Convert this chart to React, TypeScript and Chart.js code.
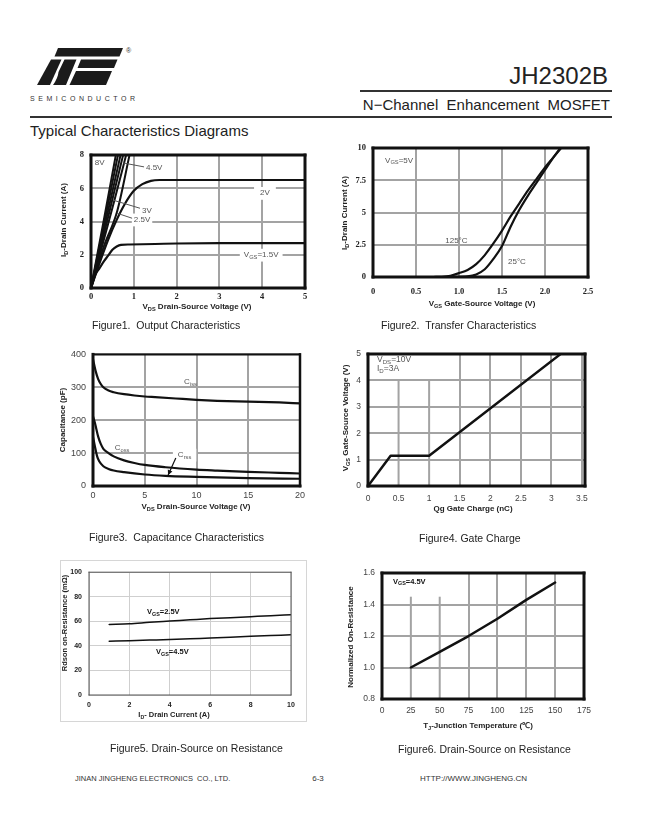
import React, { useEffect, useRef } from "react";
import { Chart, registerables } from "chart.js";

Chart.register(...registerables);

const SANS = '"Liberation Sans", Arial, Helvetica, sans-serif';
const SERIF = '"Liberation Serif", "Times New Roman", serif';

// ================= Figure 1: Output Characteristics =================
const fig1XTickValues = [0, 1, 2, 3, 4, 5];
const fig1XTickLabels = ["0", "1", "2", "3", "4", "5"];
const fig1YTickValues = [0, 2, 4, 6, 8];
const fig1YTickLabels = ["0", "2", "4", "6", "8"];
const fig1Vds8V = [0, 0.3, 0.58];
const fig1Id8V = [0, 4.1, 8];
const fig1Vds6V = [0, 0.3, 0.63];
const fig1Id6V = [0, 3.8, 8];
const fig1Vds5V = [0, 0.3, 0.69];
const fig1Id5V = [0, 3.5, 8];
const fig1Vds45V = [0, 0.3, 0.75];
const fig1Id45V = [0, 3.2, 8];
const fig1Vds3V = [0, 0.3, 0.54, 0.82];
const fig1Id3V = [0, 2.9, 5.2, 8];
const fig1Vds25V = [0, 0.3, 0.61, 0.9];
const fig1Id25V = [0, 2.5, 4.6, 8];
const fig1Vds2V = [0, 0.2, 0.4, 0.6, 0.8, 1.0, 1.2, 1.4, 1.6, 2, 3, 4, 5];
const fig1Id2V = [0, 1.5, 2.9, 4.1, 5.1, 5.85, 6.25, 6.45, 6.5, 6.5, 6.5, 6.5, 6.5];
const fig1Vds15V = [0, 0.1, 0.2, 0.3, 0.4, 0.5, 0.6, 0.7, 0.9, 1.5, 2, 3, 4, 5];
const fig1Id15V = [0, 0.8, 1.2, 1.6, 1.95, 2.3, 2.5, 2.6, 2.62, 2.65, 2.68, 2.7, 2.7, 2.7];

// ================= Figure 2: Transfer Characteristics =================
const fig2XTickValues = [0, 0.5, 1, 1.5, 2, 2.5];
const fig2XTickLabels = ["0", "0.5", "1.0", "1.5", "2.0", "2.5"];
const fig2YTickValues = [0, 2.5, 5, 7.5, 10];
const fig2YTickLabels = ["0", "2.5", "5", "7.5", "10"];
const fig2Vgs25C = [0.9, 1.1, 1.2, 1.3, 1.4, 1.5, 1.6, 1.7, 1.8, 1.9, 2.0, 2.1, 2.2];
const fig2Id25C = [0, 0.05, 0.2, 0.6, 1.4, 2.4, 3.9, 5.2, 6.3, 7.3, 8.3, 9.3, 10.2];
const fig2Vgs125C = [0.7, 0.8, 0.9, 1.0, 1.1, 1.2, 1.3, 1.4, 1.5, 1.6, 1.7, 1.8, 1.9, 2.0, 2.1, 2.2];
const fig2Id125C = [0, 0.02, 0.1, 0.3, 0.55, 1.0, 1.7, 2.6, 3.6, 4.7, 5.7, 6.7, 7.6, 8.5, 9.3, 10.1];

// ================= Figure 3: Capacitance Characteristics =================
const fig3XTickValues = [0, 5, 10, 15, 20];
const fig3XTickLabels = ["0", "5", "10", "15", "20"];
const fig3YTickValues = [0, 100, 200, 300, 400];
const fig3YTickLabels = ["0", "100", "200", "300", "400"];
const fig3VdsCiss = [0, 0.25, 0.5, 0.75, 1, 1.5, 2, 3, 4, 5, 6, 8, 10, 12, 14, 16, 18, 20];
const fig3Ciss = [385, 350, 325, 310, 300, 290, 285, 279, 275, 272, 270, 266, 262, 259, 257, 256, 254, 251];
const fig3VdsCoss = [0, 0.2, 0.5, 0.75, 1, 1.5, 2, 3, 4, 5, 7, 10, 12, 15, 18, 20];
const fig3Coss = [212, 190, 150, 128, 113, 100, 90, 78, 70, 64, 57, 50, 47, 43, 40, 38];
const fig3VdsCrss = [0, 0.2, 0.4, 0.6, 1, 1.5, 2, 3, 5, 7, 10, 15, 20];
const fig3Crss = [150, 118, 90, 75, 60, 52, 47, 42, 35, 31, 28, 24, 22];

// ================= Figure 4: Gate Charge =================
const fig4XTickValues = [0, 0.5, 1, 1.5, 2, 2.5, 3, 3.5];
const fig4XTickLabels = ["0", "0.5", "1", "1.5", "2", "2.5", "3", "3.5"];
const fig4YTickValues = [0, 1, 2, 3, 4, 5];
const fig4YTickLabels = ["0", "1", "2", "3", "4", "5"];
const fig4Qg = [0, 0.37, 1.0, 3.15];
const fig4Vgs = [0, 1.15, 1.15, 5];

// ================= Figure 5: Rdson vs ID =================
const fig5XTickValues = [0, 2, 4, 6, 8, 10];
const fig5XTickLabels = ["0", "2", "4", "6", "8", "10"];
const fig5YTickValues = [0, 20, 40, 60, 80, 100];
const fig5YTickLabels = ["0", "20", "40", "60", "80", "100"];
const fig5Id = [1, 2, 3, 4, 5, 6, 7, 8, 9, 10];
const fig5Rds25V = [57.5, 58, 59.2, 60.2, 61.2, 62.2, 63, 63.8, 64.6, 65.3];
const fig5Rds45V = [43.8, 44.2, 44.7, 45.2, 45.8, 46.4, 47, 47.8, 48.4, 49];

// ================= Figure 6: Normalized Rdson vs Tj =================
const fig6XTickValues = [0, 25, 50, 75, 100, 125, 150, 175];
const fig6XTickLabels = ["0", "25", "50", "75", "100", "125", "150", "175"];
const fig6YTickValues = [0.8, 1.0, 1.2, 1.4, 1.6];
const fig6YTickLabels = ["0.8", "1.0", "1.2", "1.4", "1.6"];
const fig6Tj = [25, 50, 75, 100, 125, 150];
const fig6Rnorm = [1.0, 1.1, 1.2, 1.31, 1.43, 1.54];

// ---------------- types & helpers ----------------
type Seg = { t: string; sub?: boolean };
type LabelSpec = {
  x: number; y: number; segs: Seg[]; size: number; color: string;
  bold?: boolean; bg?: boolean; bgPadX?: number;
};
type LeaderSpec = { x1: number; y1: number; x2: number; y2: number; arrow?: boolean; color: string; width: number };
type PartialGrid = { axis: "x" | "y"; value: number; from: number; to: number };
type AxisSpec = {
  min: number; max: number; values: number[]; labels: string[];
  font: { family: string; size: number; weight: string }; color: string; padding: number; skipGrid?: number[];
};
type SeriesSpec = { xs: number[]; ys: number[]; width: number; smooth?: boolean };
type FigSpec = {
  box: { left: number; top: number; width: number; height: number };
  pad: { left: number; right: number; top: number; bottom: number };
  yWidth: number; xHeight: number;
  x: AxisSpec; y: AxisSpec;
  grid: { color: string; width: number };
  partial?: PartialGrid[];
  frame: { top: number; right: number; bottom: number; left: number; color: string };
  series: SeriesSpec[];
  labels?: LabelSpec[];
  leaders?: LeaderSpec[];
};

const S = (t: string): Seg => ({ t });
const U = (t: string): Seg => ({ t, sub: true });

function drawRich(ctx: CanvasRenderingContext2D, l: LabelSpec, px: number, py: number) {
  const weight = l.bold ? "bold" : "normal";
  const fontOf = (s: Seg) => `${weight} ${s.sub ? l.size * 0.72 : l.size}px ${SANS}`;
  const widths = l.segs.map((s) => { ctx.font = fontOf(s); return ctx.measureText(s.t).width; });
  const total = widths.reduce((a, b) => a + b, 0);
  if (l.bg) {
    const p = l.bgPadX ?? 3;
    ctx.fillStyle = "#ffffff";
    ctx.fillRect(px - p, py - l.size * 0.75, total + 2 * p, l.size * 1.6);
  }
  ctx.fillStyle = l.color;
  ctx.textAlign = "left";
  ctx.textBaseline = "middle";
  let cx = px;
  l.segs.forEach((s, i) => {
    ctx.font = fontOf(s);
    ctx.fillText(s.t, cx, s.sub ? py + l.size * 0.3 : py);
    cx += widths[i];
  });
}

function decoPlugin(spec: FigSpec) {
  return {
    id: "deco",
    beforeDatasetsDraw(chart: any) {
      const ctx: CanvasRenderingContext2D = chart.ctx;
      const xs = chart.scales.x, ys = chart.scales.y;
      ctx.save();
      (spec.partial || []).forEach((p) => {
        ctx.strokeStyle = spec.grid.color;
        ctx.lineWidth = spec.grid.width;
        ctx.beginPath();
        if (p.axis === "x") {
          const px = xs.getPixelForValue(p.value);
          ctx.moveTo(px, ys.getPixelForValue(p.from));
          ctx.lineTo(px, ys.getPixelForValue(p.to));
        } else {
          const py = ys.getPixelForValue(p.value);
          ctx.moveTo(xs.getPixelForValue(p.from), py);
          ctx.lineTo(xs.getPixelForValue(p.to), py);
        }
        ctx.stroke();
      });
      (spec.labels || []).forEach((l) => drawRich(ctx, l, xs.getPixelForValue(l.x), ys.getPixelForValue(l.y)));
      ctx.restore();
    },
    afterDatasetsDraw(chart: any) {
      const ctx: CanvasRenderingContext2D = chart.ctx;
      const xs = chart.scales.x, ys = chart.scales.y;
      ctx.save();
      (spec.leaders || []).forEach((ld) => {
        const x1 = xs.getPixelForValue(ld.x1), y1 = ys.getPixelForValue(ld.y1);
        const x2 = xs.getPixelForValue(ld.x2), y2 = ys.getPixelForValue(ld.y2);
        ctx.strokeStyle = ld.color;
        ctx.fillStyle = ld.color;
        ctx.lineWidth = ld.width;
        ctx.beginPath();
        ctx.moveTo(x1, y1);
        ctx.lineTo(x2, y2);
        ctx.stroke();
        if (ld.arrow) {
          const a = Math.atan2(y2 - y1, x2 - x1);
          const L = 5, W = 2.5;
          ctx.beginPath();
          ctx.moveTo(x2, y2);
          ctx.lineTo(x2 - L * Math.cos(a) + W * Math.sin(a), y2 - L * Math.sin(a) - W * Math.cos(a));
          ctx.lineTo(x2 - L * Math.cos(a) - W * Math.sin(a), y2 - L * Math.sin(a) + W * Math.cos(a));
          ctx.closePath();
          ctx.fill();
        }
      });
      const { left, right, top, bottom } = chart.chartArea;
      const f = spec.frame;
      ctx.strokeStyle = f.color;
      ctx.lineCap = "square";
      const side = (w: number, ax: number, ay: number, bx: number, by: number) => {
        if (w <= 0) return;
        ctx.lineWidth = w;
        ctx.beginPath();
        ctx.moveTo(ax, ay);
        ctx.lineTo(bx, by);
        ctx.stroke();
      };
      side(f.top, left, top, right, top);
      side(f.bottom, left, bottom, right, bottom);
      side(f.left, left, top, left, bottom);
      side(f.right, right, top, right, bottom);
      ctx.restore();
    },
  };
}

function axisOptions(a: AxisSpec, isX: boolean, spec: FigSpec) {
  return {
    type: "linear",
    min: a.min,
    max: a.max,
    afterBuildTicks: (s: any) => { s.ticks = a.values.map((v) => ({ value: v })); },
    afterFit: (s: any) => { if (isX) s.height = spec.xHeight; else s.width = spec.yWidth; },
    ticks: {
      autoSkip: false, maxRotation: 0, minRotation: 0,
      padding: a.padding, color: a.color, font: a.font,
      callback: (_v: any, i: number) => a.labels[i] ?? "",
    },
    grid: {
      drawTicks: false,
      lineWidth: spec.grid.width,
      color: (c: any) => (c.tick && a.skipGrid && a.skipGrid.includes(c.tick.value) ? "rgba(0,0,0,0)" : spec.grid.color),
    },
    border: { display: false },
  };
}

function buildConfig(spec: FigSpec): any {
  return {
    type: "line",
    data: {
      datasets: spec.series.map((s) => ({
        data: s.xs.map((x, i) => ({ x, y: s.ys[i] })),
        borderColor: "#111",
        borderWidth: s.width,
        pointRadius: 0,
        fill: false,
        tension: s.smooth ? 0.4 : 0,
        cubicInterpolationMode: s.smooth ? "monotone" : "default",
        borderJoinStyle: "round",
        borderCapStyle: "round",
      })),
    },
    options: {
      responsive: false,
      maintainAspectRatio: false,
      animation: false,
      events: [],
      layout: { padding: spec.pad },
      plugins: { legend: { display: false }, tooltip: { enabled: false }, title: { display: false } },
      scales: { x: axisOptions(spec.x, true, spec), y: axisOptions(spec.y, false, spec) },
    },
    plugins: [decoPlugin(spec)],
  };
}

// ---------------- figure specs ----------------
const serifBold = { family: SERIF, size: 8.5, weight: "bold" };
const sansTick = { family: SANS, size: 8.5, weight: "normal" };
const lbl = "#555";

const fig1Spec: FigSpec = {
  box: { left: 50, top: 143, width: 270, height: 160 },
  pad: { left: 0, right: 15, top: 10, bottom: 0 },
  yWidth: 41, xHeight: 15,
  x: { min: 0, max: 5, values: fig1XTickValues, labels: fig1XTickLabels, font: serifBold, color: "#222", padding: 4 },
  y: { min: 0, max: 8, values: fig1YTickValues, labels: fig1YTickLabels, font: serifBold, color: "#222", padding: 7 },
  grid: { color: "#a3a3a3", width: 2 },
  frame: { top: 3, right: 3, bottom: 3, left: 3, color: "#111" },
  series: [
    { xs: fig1Vds8V, ys: fig1Id8V, width: 2 },
    { xs: fig1Vds6V, ys: fig1Id6V, width: 2 },
    { xs: fig1Vds5V, ys: fig1Id5V, width: 2 },
    { xs: fig1Vds45V, ys: fig1Id45V, width: 2 },
    { xs: fig1Vds3V, ys: fig1Id3V, width: 2, smooth: true },
    { xs: fig1Vds25V, ys: fig1Id25V, width: 2, smooth: true },
    { xs: fig1Vds2V, ys: fig1Id2V, width: 2.2, smooth: true },
    { xs: fig1Vds15V, ys: fig1Id15V, width: 2.2, smooth: true },
  ],
  labels: [
    { x: 0.09, y: 7.55, segs: [S("8V")], size: 8, color: lbl },
    { x: 1.285, y: 7.26, segs: [S("4.5V")], size: 8, color: lbl },
    { x: 3.95, y: 5.72, segs: [S("2V")], size: 8, color: lbl, bg: true, bgPadX: 6 },
    { x: 1.19, y: 4.65, segs: [S("3V")], size: 8, color: lbl },
    { x: 1.0, y: 4.12, segs: [S("2.5V")], size: 8, color: lbl, bg: true, bgPadX: 2 },
    { x: 3.57, y: 2.0, segs: [S("V"), U("GS"), S("=1.5V")], size: 8, color: lbl, bg: true, bgPadX: 4 },
  ],
  leaders: [
    { x1: 0.75, y1: 7.53, x2: 1.24, y2: 7.29, color: lbl, width: 1 },
    { x1: 0.54, y1: 5.27, x2: 1.145, y2: 4.8, color: lbl, width: 1 },
    { x1: 0.61, y1: 4.5, x2: 0.96, y2: 4.2, color: lbl, width: 1 },
  ],
};

const fig2Spec: FigSpec = {
  box: { left: 330, top: 136, width: 275, height: 165 },
  pad: { left: 0, right: 17, top: 10, bottom: 4 },
  yWidth: 43, xHeight: 20,
  x: { min: 0, max: 2.5, values: fig2XTickValues, labels: fig2XTickLabels, font: serifBold, color: "#222", padding: 10 },
  y: { min: 0, max: 10, values: fig2YTickValues, labels: fig2YTickLabels, font: serifBold, color: "#222", padding: 7 },
  grid: { color: "#a3a3a3", width: 2 },
  frame: { top: 3, right: 3, bottom: 3, left: 3, color: "#111" },
  series: [
    { xs: fig2Vgs25C, ys: fig2Id25C, width: 2.2, smooth: true },
    { xs: fig2Vgs125C, ys: fig2Id125C, width: 2.2, smooth: true },
  ],
  labels: [
    { x: 0.14, y: 9.05, segs: [S("V"), U("GS"), S("=5V")], size: 8, color: lbl },
    { x: 0.84, y: 2.82, segs: [S("125°C")], size: 8, color: lbl },
    { x: 1.57, y: 1.18, segs: [S("25°C")], size: 8, color: lbl },
  ],
};

const fig3Spec: FigSpec = {
  box: { left: 45, top: 342, width: 270, height: 165 },
  pad: { left: 0, right: 15, top: 10, bottom: 0 },
  yWidth: 48, xHeight: 21,
  x: { min: 0, max: 20, values: fig3XTickValues, labels: fig3XTickLabels, font: { family: SANS, size: 9, weight: "normal" }, color: "#444", padding: 4 },
  y: { min: 0, max: 400, values: fig3YTickValues, labels: fig3YTickLabels, font: { family: SANS, size: 9, weight: "normal" }, color: "#444", padding: 7 },
  grid: { color: "#a3a3a3", width: 2 },
  frame: { top: 2, right: 2.5, bottom: 3, left: 3, color: "#111" },
  series: [
    { xs: fig3VdsCiss, ys: fig3Ciss, width: 2.2, smooth: true },
    { xs: fig3VdsCoss, ys: fig3Coss, width: 2.2, smooth: true },
    { xs: fig3VdsCrss, ys: fig3Crss, width: 2.2, smooth: true },
  ],
  labels: [
    { x: 8.8, y: 316, segs: [S("C"), U("iss")], size: 8, color: lbl },
    { x: 2.1, y: 115, segs: [S("C"), U("oss")], size: 8, color: lbl },
    { x: 8.2, y: 95, segs: [S("C"), U("rss")], size: 8, color: lbl, bg: true, bgPadX: 5 },
  ],
  leaders: [{ x1: 8.0, y1: 85, x2: 7.25, y2: 33, arrow: true, color: "#111", width: 1.2 }],
};

const fig4Spec: FigSpec = {
  box: { left: 330, top: 342, width: 270, height: 165 },
  pad: { left: 0, right: 15, top: 10, bottom: 0 },
  yWidth: 38, xHeight: 21,
  x: { min: 0, max: 3.55, values: fig4XTickValues, labels: fig4XTickLabels, font: sansTick, color: "#444", padding: 8, skipGrid: [0.5, 1] },
  y: { min: 0, max: 5, values: fig4YTickValues, labels: fig4YTickLabels, font: sansTick, color: "#444", padding: 7 },
  grid: { color: "#a3a3a3", width: 2 },
  partial: [
    { axis: "x", value: 0.5, from: 0, to: 4 },
    { axis: "x", value: 1, from: 0, to: 4 },
  ],
  frame: { top: 3, right: 3, bottom: 3, left: 3, color: "#111" },
  series: [{ xs: fig4Qg, ys: fig4Vgs, width: 2.5 }],
  labels: [
    { x: 0.147, y: 4.78, segs: [S("V"), U("DS"), S("=10V")], size: 8.5, color: lbl },
    { x: 0.147, y: 4.45, segs: [S("I"), U("D"), S("=3A")], size: 8.5, color: lbl },
  ],
};

const fig5Spec: FigSpec = {
  box: { left: 61, top: 561, width: 245, height: 160 },
  pad: { left: 0, right: 15, top: 7, bottom: 0 },
  yWidth: 28, xHeight: 26,
  x: { min: 0, max: 10, values: fig5XTickValues, labels: fig5XTickLabels, font: { family: SANS, size: 7, weight: "bold" }, color: "#222", padding: 6 },
  y: { min: 0, max: 100, values: fig5YTickValues, labels: fig5YTickLabels, font: { family: SANS, size: 7, weight: "bold" }, color: "#222", padding: 7 },
  grid: { color: "#cfcfcf", width: 1 },
  frame: { top: 1, right: 1, bottom: 1, left: 1, color: "#555" },
  series: [
    { xs: fig5Id, ys: fig5Rds25V, width: 1.5, smooth: true },
    { xs: fig5Id, ys: fig5Rds45V, width: 1.5, smooth: true },
  ],
  labels: [
    { x: 2.87, y: 67.3, segs: [S("V"), U("GS"), S("=2.5V")], size: 7.5, color: "#111", bold: true },
    { x: 3.32, y: 35, segs: [S("V"), U("GS"), S("=4.5V")], size: 7.5, color: "#111", bold: true },
  ],
};

const fig6Spec: FigSpec = {
  box: { left: 330, top: 561, width: 270, height: 165 },
  pad: { left: 0, right: 16, top: 10, bottom: 0 },
  yWidth: 52, xHeight: 27,
  x: { min: 0, max: 175, values: fig6XTickValues, labels: fig6XTickLabels, font: sansTick, color: "#444", padding: 7, skipGrid: [25, 50] },
  y: { min: 0.8, max: 1.6, values: fig6YTickValues, labels: fig6YTickLabels, font: sansTick, color: "#444", padding: 7 },
  grid: { color: "#a3a3a3", width: 2 },
  partial: [
    { axis: "x", value: 25, from: 0.8, to: 1.45 },
    { axis: "x", value: 50, from: 0.8, to: 1.45 },
  ],
  frame: { top: 3, right: 3, bottom: 3, left: 3, color: "#111" },
  series: [{ xs: fig6Tj, ys: fig6Rnorm, width: 2.5 }],
  labels: [{ x: 9.5, y: 1.547, segs: [S("V"), U("GS"), S("=4.5V")], size: 7.5, color: "#111", bold: true }],
};

// ---------------- components ----------------
function Fig({ spec }: { spec: FigSpec }) {
  const ref = useRef<HTMLCanvasElement | null>(null);
  useEffect(() => {
    if (!ref.current) return;
    const chart = new Chart(ref.current, buildConfig(spec));
    return () => chart.destroy();
  }, [spec]);
  const b = spec.box;
  return (
    <canvas
      ref={ref}
      width={b.width}
      height={b.height}
      style={{ position: "absolute", left: b.left, top: b.top, width: b.width, height: b.height }}
    />
  );
}

const Sub = ({ children }: { children: React.ReactNode }) => (
  <span style={{ fontSize: "0.7em", position: "relative", top: "0.3em" }}>{children}</span>
);

type TProps = {
  x: number; y: number; size: number; bold?: boolean; anchor?: "left" | "center" | "right";
  rotate?: boolean; color?: string; spacing?: number; family?: string; children: React.ReactNode;
};
function T({ x, y, size, bold, anchor = "left", rotate, color = "#222", spacing, family = SANS, children }: TProps) {
  let transform = "translateY(-50%)";
  if (anchor === "center") transform = "translate(-50%,-50%)" + (rotate ? " rotate(-90deg)" : "");
  if (anchor === "right") transform = "translate(-100%,-50%)";
  return (
    <div
      style={{
        position: "absolute", left: x, top: y, fontSize: size, fontWeight: bold ? 700 : 400,
        fontFamily: family, color, letterSpacing: spacing, whiteSpace: "nowrap", lineHeight: 1, transform,
      }}
    >
      {children}
    </div>
  );
}

function Logo() {
  return (
    <svg style={{ position: "absolute", left: 0, top: 0 }} width={150} height={110}>
      <g fill="#1b1b1b">
        <polygon points="58,48 123,48 119.5,56.5 54.5,56.5" />
        <polygon points="51,59.5 61.5,59.5 50,85 37,85" />
        <path d="M64.5,59.5 L76.5,59.5 L66,85 L53,85 Q58,78 58.5,72 Z" />
        <polygon points="81,59.5 117.5,59.5 114,68 77.5,68" />
        <polygon points="76,71 112,71 106,85 69.5,85" />
      </g>
      <text x={126} y={53} fontSize={7} fontFamily={SANS} fill="#333">®</text>
    </svg>
  );
}

export default function App() {
  return (
    <div
      style={{
        position: "absolute", left: 0, top: 0, width: 650, height: 817, background: "#fff",
        overflow: "hidden", fontFamily: SANS,
      }}
    >
      <Logo />
      <T x={30} y={98} size={7} spacing={3.55} color="#333">SEMICONDUCTOR</T>
      <T x={608} y={76} size={24} anchor="right" color="#222">JH2302B</T>
      <div style={{ position: "absolute", left: 360, top: 90, width: 252, height: 1.5, background: "#333" }} />
      <T x={610} y={104} size={15} anchor="right" color="#222">N−Channel&nbsp; Enhancement&nbsp; MOSFET</T>
      <div style={{ position: "absolute", left: 30, top: 116, width: 582, height: 2, background: "#333" }} />
      <T x={30} y={130} size={15} color="#222">Typical Characteristics Diagrams</T>

      <div
        style={{
          position: "absolute", left: 60, top: 560, width: 247, height: 162,
          border: "1px solid #d6d6d6", boxSizing: "border-box",
        }}
      />

      <Fig spec={fig1Spec} />
      <Fig spec={fig2Spec} />
      <Fig spec={fig3Spec} />
      <Fig spec={fig4Spec} />
      <Fig spec={fig5Spec} />
      <Fig spec={fig6Spec} />

      {/* Figure 1 */}
      <T x={64} y={220} size={8} bold anchor="center" rotate>I<Sub>D</Sub>-Drain Current (A)</T>
      <T x={197} y={307} size={8} bold anchor="center">V<Sub>DS</Sub> Drain-Source Voltage (V)</T>
      <T x={92} y={325} size={10.5}>Figure1.&nbsp; Output Characteristics</T>

      {/* Figure 2 */}
      <T x={345} y={213} size={8} bold anchor="center" rotate>I<Sub>D</Sub>-Drain Current (A)</T>
      <T x={482} y={304} size={8} bold anchor="center">V<Sub>GS</Sub> Gate-Source Voltage (V)</T>
      <T x={381} y={325} size={10.5}>Figure2.&nbsp; Transfer Characteristics</T>

      {/* Figure 3 */}
      <T x={63} y={420} size={8} bold anchor="center" rotate>Capacitance (pF)</T>
      <T x={196} y={507} size={8} bold anchor="center">V<Sub>DS</Sub> Drain-Source Voltage (V)</T>
      <T x={89} y={537} size={10.5}>Figure3.&nbsp; Capacitance Characteristics</T>

      {/* Figure 4 */}
      <T x={346} y={418} size={8} bold anchor="center" rotate>V<Sub>GS</Sub> Gate-Source Voltage (V)</T>
      <T x={473} y={509} size={8} bold anchor="center">Qg Gate Charge (nC)</T>
      <T x={419} y={538} size={10.5}>Figure4. Gate Charge</T>

      {/* Figure 5 */}
      <T x={65} y={623} size={7.5} bold anchor="center" rotate>Rdson on-Resistance (mΩ)</T>
      <T x={174} y={715} size={7.5} bold anchor="center">I<Sub>D</Sub>- Drain Current (A)</T>
      <T x={110} y={748} size={10.5}>Figure5. Drain-Source on Resistance</T>

      {/* Figure 6 */}
      <T x={351} y={637} size={8} bold anchor="center" rotate>Normalized On-Resistance</T>
      <T x={478} y={726} size={8} bold anchor="center">T<Sub>J</Sub>-Junction Temperature (℃)</T>
      <T x={398} y={749} size={10.5}>Figure6. Drain-Source on Resistance</T>

      {/* Footer */}
      <T x={75} y={779} size={7.5} color="#333">JINAN JINGHENG ELECTRONICS&nbsp; CO., LTD.</T>
      <T x={318} y={779} size={8} anchor="center" color="#333">6-3</T>
      <T x={420} y={779} size={8} color="#333">HTTP://WWW.JINGHENG.CN</T>
    </div>
  );
}
